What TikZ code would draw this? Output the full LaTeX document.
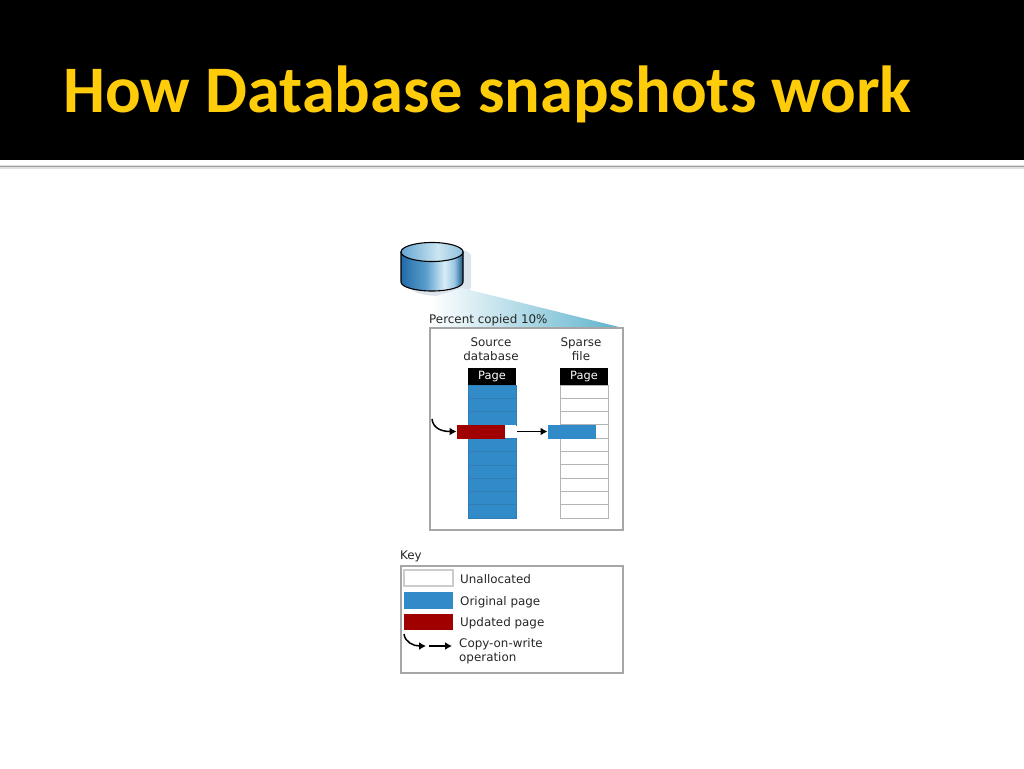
\documentclass[tikz,border=0pt]{standalone}
\usepackage{fontspec}
\setmainfont{DejaVu Sans}
\newfontfamily\titlefont{Carlito}
\usetikzlibrary{arrows.meta}
\usetikzlibrary{positioning}
\definecolor{titlegold}{HTML}{FFCC0A}
\definecolor{pageblue}{HTML}{318BC9}
\definecolor{rowblue}{HTML}{2F7DB4}
\definecolor{pagered}{HTML}{A00000}
\definecolor{framegray}{HTML}{A6A6A6}
\definecolor{rowgray}{HTML}{B4B4B4}
\definecolor{cylshadow}{HTML}{DDE4EC}
\definecolor{wedgeteal}{HTML}{5BB1CC}
\pgfdeclarehorizontalshading{cylbody}{100bp}{
  rgb(0bp)=(0.13,0.42,0.66);
  rgb(25bp)=(0.13,0.42,0.66);
  rgb(45bp)=(0.35,0.62,0.80);
  rgb(60bp)=(0.85,0.93,0.97);
  rgb(68bp)=(0.60,0.78,0.89);
  rgb(75bp)=(0.09,0.33,0.52);
  rgb(100bp)=(0.09,0.33,0.52)}
\pgfdeclarehorizontalshading{cyllid}{100bp}{
  rgb(0bp)=(0.40,0.65,0.82);
  rgb(25bp)=(0.40,0.65,0.82);
  rgb(55bp)=(0.80,0.90,0.95);
  rgb(75bp)=(0.55,0.75,0.87);
  rgb(100bp)=(0.55,0.75,0.87)}
\tikzset{
  lbl/.style={inner sep=0pt,font=\fontsize{11.9pt}{13.8pt}\selectfont,text=black!85},
  pagehead/.style={fill=black,text=white,minimum width=48pt,minimum height=17pt,inner sep=0pt,font=\fontsize{11.4pt}{12pt}\selectfont},
  rowbox/.style={minimum width=48pt,minimum height=13.3pt,inner sep=0pt,outer sep=0pt},
  origrow/.style={rowbox,fill=pageblue,draw=rowblue,line width=0.5pt},
  freerow/.style={rowbox,fill=white,draw=rowgray,line width=0.8pt},
  swatch/.style={minimum width=49pt,minimum height=16pt,inner sep=0pt,outer sep=0pt},
  cow/.style={line width=1.5pt,black,-{Latex[length=7pt,width=8pt]}},
}
\begin{document}
\begin{tikzpicture}[x=1pt,y=-1pt]
\useasboundingbox (0,0) rectangle (1024,768);
% title band
\fill[black] (0,0) rectangle (1024,160);
\fill[black!12] (0,164.5) rectangle (1024,168.5);
\fill[black!38] (0,165.5) rectangle (1024,167.2);
\node[anchor=west,inner sep=0pt,text=titlegold,font=\titlefont\bfseries\fontsize{66.5pt}{66.5pt}\selectfont] (title) at (63,94) {How Database snapshots work};
% cylinder
\fill[cylshadow] (440.5,256) ellipse[x radius=30.5,y radius=9];
\fill[cylshadow] (410,256) -- (410,287) arc[start angle=180,end angle=0,x radius=30.5,y radius=9] -- (471,256) -- cycle;
\shade[left color=white,right color=wedgeteal] (430,298) -- (462,288) -- (623,328) -- (430,328) -- cycle;
\path[draw=black,line width=1.1pt,shading=cylbody]
  (401,252) -- (401,282) arc[start angle=180,end angle=0,x radius=31,y radius=9] -- (463,252) -- cycle;
\path[draw=black,line width=1.1pt,shading=cyllid] (432,252) ellipse[x radius=31,y radius=9.5];
\node[lbl,anchor=west] (pct) at (429,320.5) {Percent copied 10\%};
% main frame
\node[draw=framegray,line width=1.3pt,outer sep=0pt,minimum width=193pt,minimum height=202pt,anchor=north west,inner sep=0pt] (frame) at (430,328) {};
\node[lbl,align=center] (srcname) at (491,349.5) {Source\\database};
\node[lbl,align=center] (sparsename) at (581,349.5) {Sparse\\file};
\node[pagehead] (srchead) at (492,376.5) {Page};
\node[pagehead] (sparsehead) at (584,376.5) {Page};
% page rows
\foreach \i/\ypos in {0/391.65,1/404.95,2/418.25,4/444.85,5/458.15,6/471.45,7/484.75,8/498.05,9/511.35} {
  \node[origrow] (src\i) at (492,\ypos) {};
  \node[freerow] (spr\i) at (584,\ypos) {};
}
\node[rowbox,fill=white] (srcgap) at (492,431.5) {};
\node[freerow] (sprgap) at (584,431.5) {};
\node[rowbox,fill=pagered,minimum height=14pt] (upd) at (480.5,431.5) {};
\node[rowbox,fill=pageblue,minimum height=14pt] (old) at (571.5,431.5) {};
\coordinate (cowstart) at (432,419);
\draw[cow] (cowstart) .. controls (433,428) and (441,431.5) .. (upd.west);
\draw[cow] (srcgap.east) ++(1,0) coordinate (cowfrom) (cowfrom) -- (old.west);
% key
\node[lbl,anchor=west] (keyname) at (400,556) {Key};
\node[draw=framegray,line width=1.3pt,outer sep=0pt,minimum width=222pt,minimum height=107pt,anchor=north west,inner sep=0pt] (keybox) at (401,566) {};
\node[swatch,draw=black!20,line width=1.2pt,fill=white] (keyfree) at (428.5,578) {};
\node[swatch,fill=pageblue,minimum height=17pt] (keyorig) at (428.5,600.5) {};
\node[swatch,fill=pagered] (keyupd) at (428.5,622) {};
\node[lbl,anchor=west] (keyfreetxt) at (460,579) {Unallocated};
\node[lbl,anchor=west] (keyorigtxt) at (460,602) {Original page};
\node[lbl,anchor=west] (keyupdtxt) at (460,623) {Updated page};
\node[lbl,anchor=north west,align=left] (keycowtxt) at (459,638) {Copy-on-write\\operation};
\coordinate (keystart) at (404,634);
\coordinate (keymid) at (426,646);
\coordinate (keyfrom) at (429,646);
\coordinate (keyto) at (452,646);
\draw[cow] (keystart) .. controls (405,642) and (413,646) .. (keymid);
\draw[cow] (keyfrom) -- (keyto);
\end{tikzpicture}
\end{document}
